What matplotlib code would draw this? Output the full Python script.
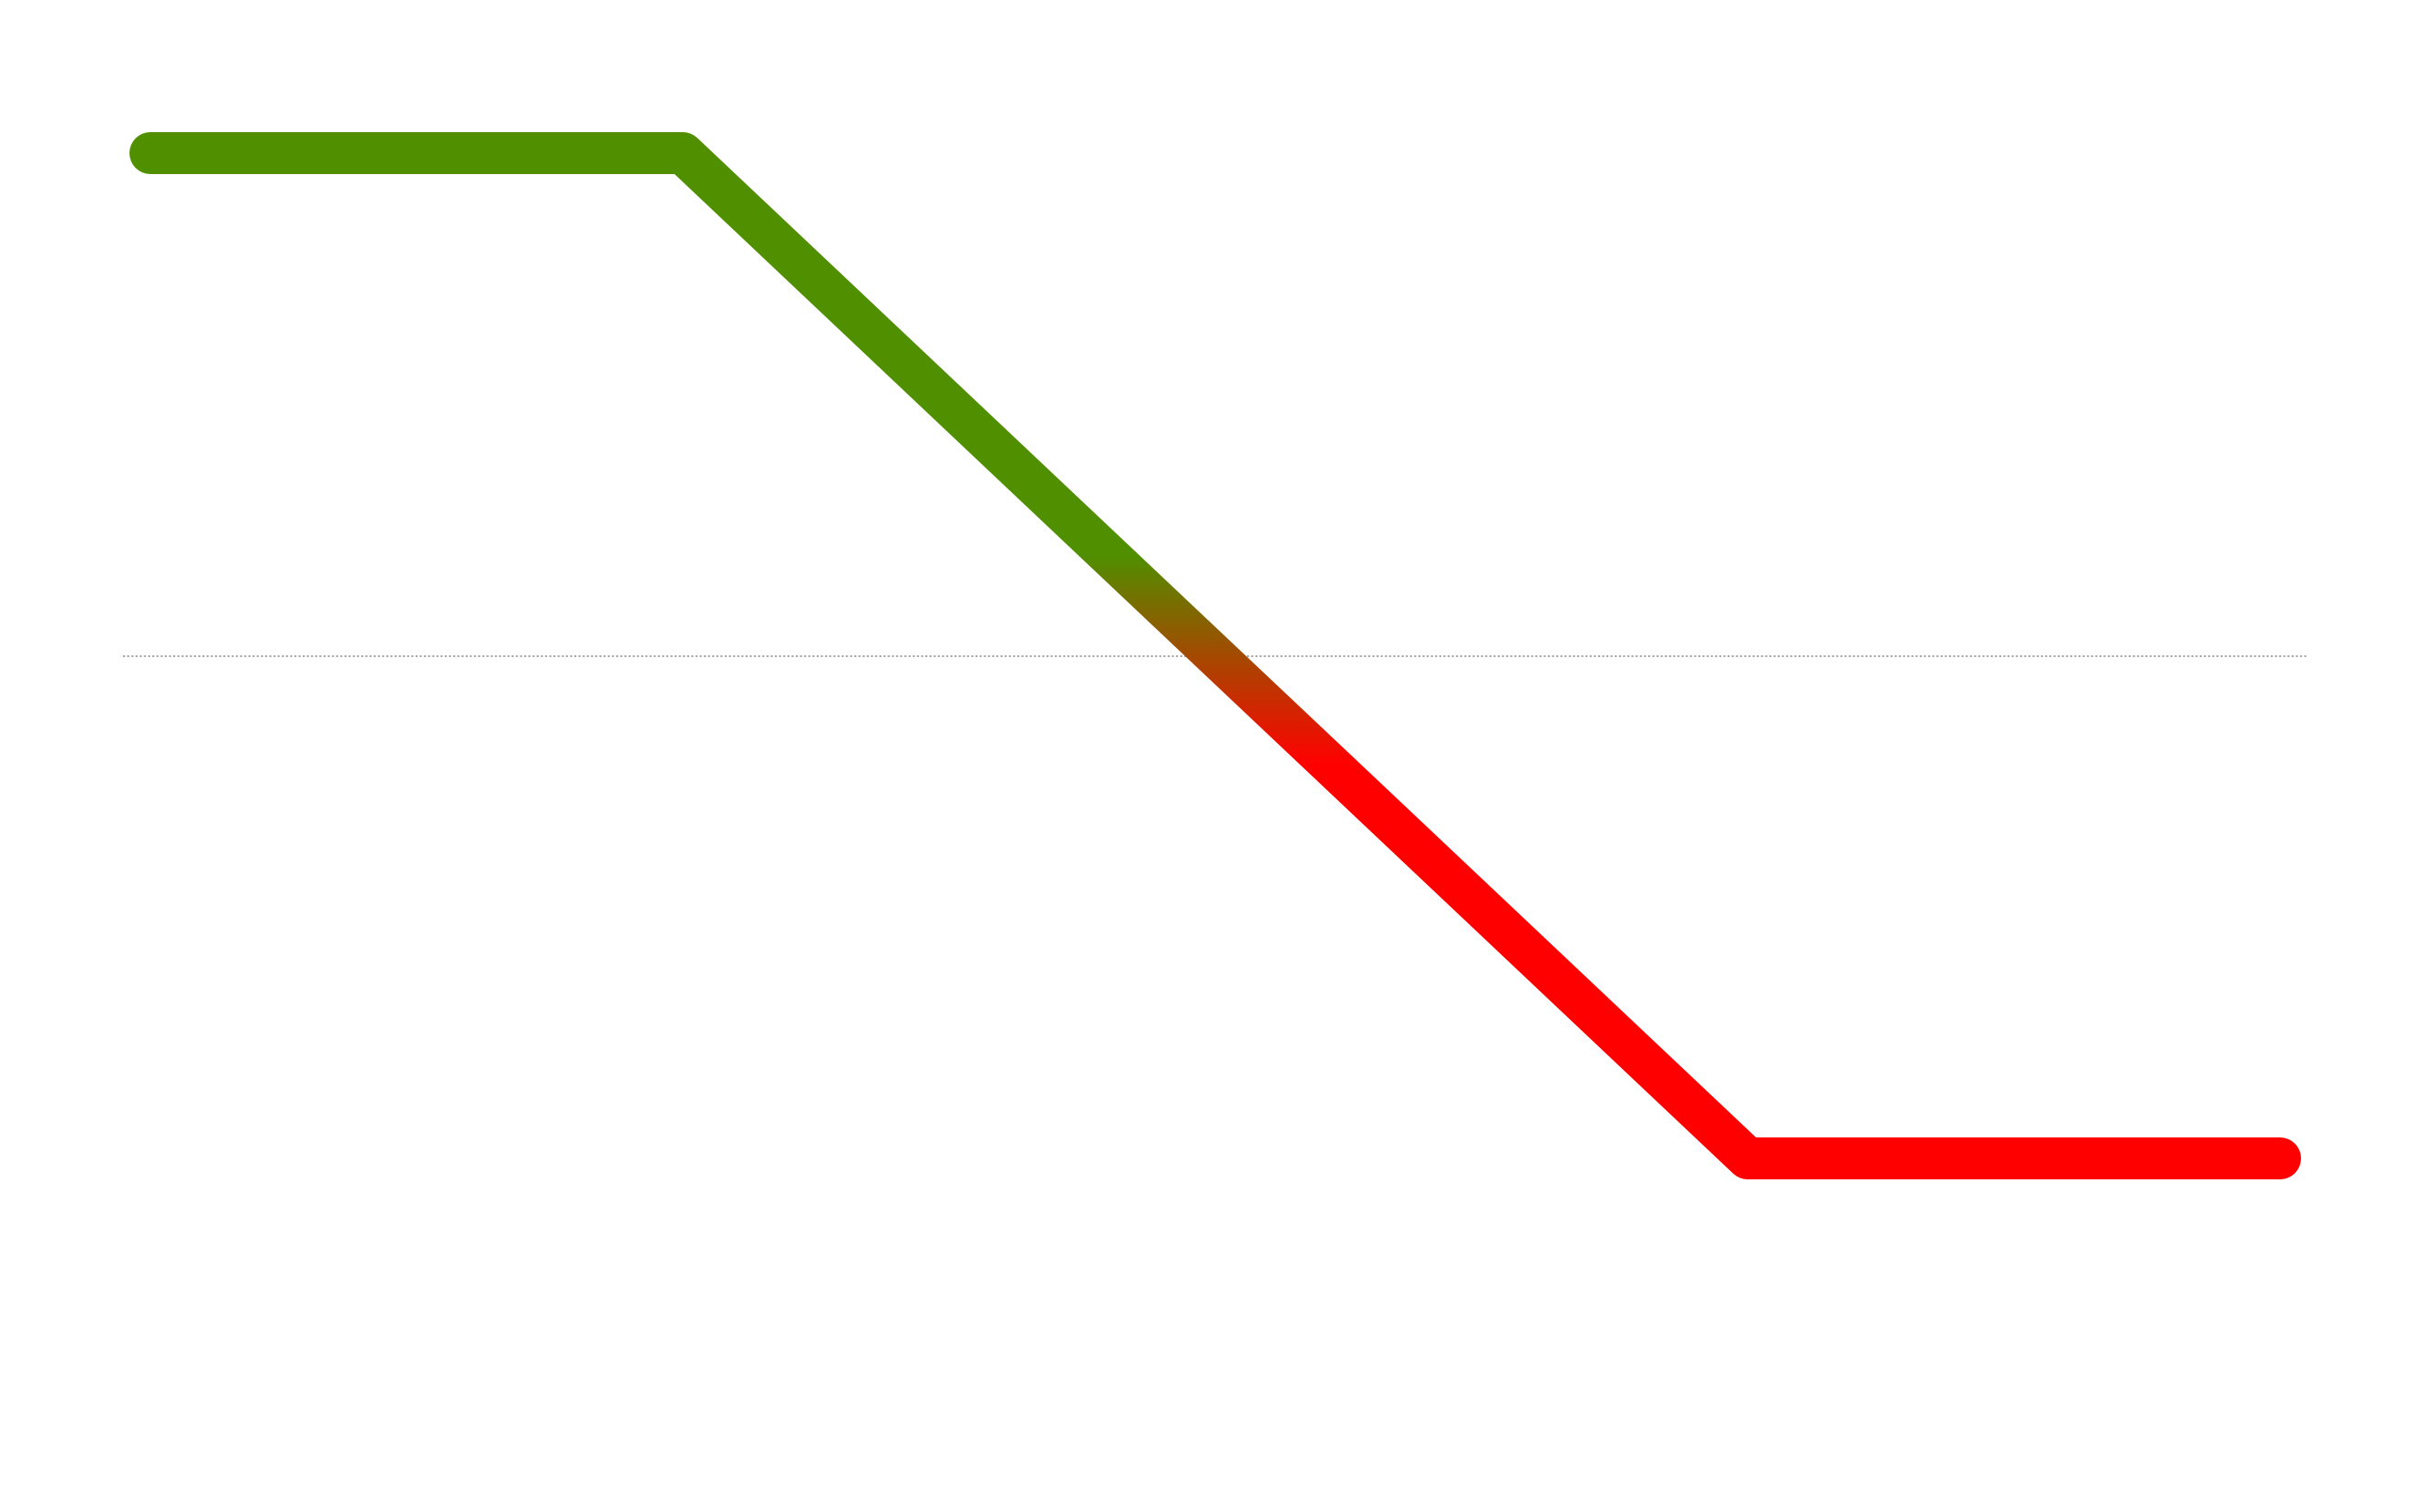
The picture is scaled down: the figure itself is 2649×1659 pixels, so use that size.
import numpy as np
import matplotlib
matplotlib.use("Agg")
import matplotlib.pyplot as plt
from matplotlib.transforms import Bbox, TransformedBbox
from matplotlib.colors import to_rgb

# ---- data ----
x_values = [0, 1, 2, 3, 4]
y_values = [1, 1, 0, -1, -1]
baseline = 0

# ---- style ----
GREEN = "#4f8f00"
RED = "#ff0000"
GRAD_TOP = 0.20      # data y where gradient begins (pure green above)
GRAD_BOTTOM = -0.215 # data y where gradient ends (pure red below)
LW = 46 * 72 / 100   # 46 px

W, H = 2649, 1659
fig = plt.figure(figsize=(W / 100, H / 100), dpi=100)
ax = fig.add_axes([135 / W, 0, (2531 - 135) / W, 1])
ax.set_axis_off()
pad = 30 / 584
ax.set_xlim(-pad, 4 + pad)
ax.set_ylim(-1.7035, 1.3046)

ax.axhline(baseline, color="#8c8c8c", linewidth=1.1,
           linestyle=(0, (1.4, 1.6)), zorder=1)

x0, x1 = ax.get_xlim()
y0, y1 = ax.get_ylim()


def draw(color, ylo, yhi):
    ln, = ax.plot(x_values, y_values, color=color, linewidth=LW,
                  solid_capstyle="round", solid_joinstyle="round", zorder=2)
    ln.set_clip_box(TransformedBbox(Bbox([[x0, ylo], [x1, yhi]]), ax.transData))


draw(GREEN, GRAD_TOP, y1)
draw(RED, y0, GRAD_BOTTOM)

g = np.array(to_rgb(GREEN))
r = np.array(to_rgb(RED))
N = 120
edges = np.linspace(GRAD_TOP, GRAD_BOTTOM, N + 1)
for i in range(N):
    t = (i + 0.5) / N
    c = g * (1 - t) + r * t
    draw(tuple(c), edges[i + 1], edges[i])

fig.savefig("out.png", dpi=100, facecolor="white")
